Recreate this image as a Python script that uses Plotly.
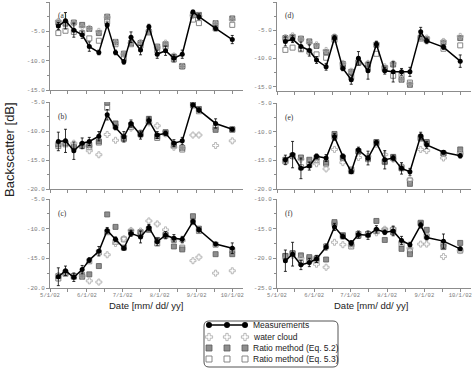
import plotly.graph_objects as go

# ---------------- data ----------------
dates = ["2002-05-08", "2002-05-14", "2002-05-21", "2002-05-28", "2002-06-03",
         "2002-06-11", "2002-06-18", "2002-06-25", "2002-07-02", "2002-07-08",
         "2002-07-16", "2002-07-23", "2002-07-30", "2002-08-06", "2002-08-13",
         "2002-08-20", "2002-08-29", "2002-09-03", "2002-09-17", "2002-10-01"]

meas_a = [-4.1, -3.2, -4.8, -5.6, -7.6, -8.6, -3.9, -8.6, -10.2, -6.0, -8.2, -4.2, -8.9, -8.3, -9.6, -8.9, -1.7, -2.5, -4.5, -6.4]
err_a = [0.6, 1.4, 1.2, 0.6, 0.8, 0.4, 0.5, 0.4, 0.4, 0.9, 0.8, 0.4, 0.7, 0.8, 0.6, 0.7, 0.3, 0.5, 0.4, 0.7]
wc_a = [-3.3, -3.4, -3.6, -4.2, -4.5, -5.0, -2.6, -6.9, -8.9, -7.0, -6.9, -5.0, -7.7, -7.0, -9.2, -11.0, -2.3, -2.4, -3.7, -3.0]
r52_a = [-3.5, -3.7, -3.5, -3.9, -4.6, -5.3, -2.5, -6.8, -8.8, -7.0, -7.0, -5.1, -7.6, -7.2, -9.3, -11.0, -2.2, -2.2, -3.6, -2.8]
r53_a = [-5.3, -4.9, -5.1, -5.3, -6.2, -6.6, -3.3, -7.2, -9.6, -7.2, -7.4, -5.2, -8.2, -7.6, -9.8, -10.9, -3.0, -3.6, -4.5, -3.9]

meas_b = [-11.8, -11.7, -13.4, -12.1, -11.8, -10.9, -7.2, -9.4, -11.0, -8.7, -10.7, -8.2, -10.7, -10.4, -12.1, -11.7, -5.5, -6.4, -8.7, -9.7]
err_b = [1.6, 2.0, 1.5, 0.9, 0.7, 0.8, 0.9, 0.4, 0.9, 0.6, 0.7, 0.6, 0.6, 0.4, 0.6, 0.6, 0.3, 0.4, 0.8, 0.3]
wc_b = [-12.2, -11.9, -12.1, -12.6, -13.4, -14.1, -10.6, -11.6, -10.9, -9.5, -10.3, -8.6, -9.1, -10.5, -12.8, -12.9, -10.7, -10.7, -12.5, -11.7]
r52_b = [-12.3, -12.1, -12.7, -12.4, -12.4, -11.8, -5.1, -8.7, -11.2, -9.0, -10.4, -7.9, -10.9, -10.2, -12.3, -12.9, -5.2, -6.2, -9.8, -9.7]
r53_b = [-12.6, -12.3, -12.8, -12.6, -12.8, -12.0, -6.0, -9.2, -11.4, -9.3, -10.6, -8.3, -11.2, -10.4, -12.5, -13.2, -5.6, -6.6, -9.4, -9.8]

meas_c = [-18.1, -17.1, -18.2, -16.9, -15.3, -13.8, -10.3, -11.8, -13.3, -10.8, -11.4, -9.8, -12.2, -11.1, -11.6, -11.8, -8.8, -10.2, -12.6, -13.3]
err_c = [1.5, 0.8, 0.7, 0.7, 0.4, 0.8, 0.5, 0.4, 0.3, 0.5, 1.0, 0.5, 0.6, 0.6, 0.6, 0.5, 0.4, 0.4, 0.3, 0.9]
wc_c = [-17.9, -17.5, -17.9, -18.0, -18.8, -19.0, -14.4, -12.5, -11.7, -10.3, -10.4, -8.7, -9.2, -10.2, -11.8, -12.0, -15.4, -14.8, -17.5, -17.1]
r52_c = [-18.0, -17.4, -18.0, -18.1, -17.7, -16.3, -7.6, -9.7, -13.2, -10.5, -10.6, -10.1, -11.9, -11.0, -13.0, -13.5, -7.9, -10.0, -14.3, -14.3]
r53_c = [-18.4, -17.6, -18.1, -17.8, -15.5, -14.0, -10.6, -12.2, -11.8, -10.7, -11.0, -10.2, -12.5, -11.2, -11.9, -13.2, -8.9, -10.4, -12.7, -13.6]

meas_d = [-7.0, -6.6, -7.9, -8.6, -10.3, -11.5, -6.4, -11.8, -13.8, -10.0, -12.2, -7.5, -12.2, -12.4, -12.4, -12.4, -5.3, -6.9, -8.0, -10.5]
err_d = [0.8, 0.6, 0.8, 1.0, 0.6, 0.6, 0.5, 0.4, 0.8, 1.2, 1.5, 0.5, 0.6, 1.8, 0.6, 0.8, 0.8, 0.5, 0.4, 1.1]
wc_d = [-6.3, -6.0, -6.6, -7.2, -7.6, -8.6, -6.2, -10.9, -12.3, -10.6, -10.9, -7.4, -11.5, -10.9, -13.7, -14.5, -6.4, -6.4, -7.0, -6.1]
r52_d = [-6.4, -6.2, -6.5, -7.0, -7.8, -8.9, -6.3, -11.0, -12.4, -10.8, -11.1, -7.6, -11.7, -11.1, -13.8, -14.7, -6.3, -6.6, -7.2, -6.4]
r53_d = [-8.5, -8.1, -8.4, -8.8, -9.3, -9.9, -6.7, -11.5, -13.3, -10.7, -11.6, -9.2, -11.9, -13.1, -12.9, -14.3, -6.5, -6.8, -8.3, -7.7]

meas_e = [-14.9, -14.0, -16.4, -16.0, -14.3, -14.6, -10.9, -14.3, -17.0, -13.2, -14.6, -11.9, -14.9, -14.6, -16.4, -17.0, -10.7, -12.3, -13.6, -14.2]
err_e = [0.8, 2.3, 1.8, 0.7, 0.4, 0.6, 0.6, 0.4, 0.3, 0.5, 1.2, 0.4, 1.6, 0.5, 1.0, 0.6, 0.6, 0.6, 0.3, 0.4]
wc_e = [-15.3, -14.3, -14.8, -15.5, -15.6, -16.5, -13.1, -15.4, -16.8, -14.5, -14.3, -12.2, -14.0, -14.8, -16.1, -18.4, -13.1, -13.3, -14.6, -13.8]
r52_e = [-14.9, -14.2, -14.5, -14.9, -14.5, -15.4, -10.4, -14.5, -16.6, -13.4, -14.6, -11.8, -15.2, -14.4, -16.4, -19.1, -11.2, -11.8, -13.8, -13.1]
r53_e = [-15.2, -14.2, -16.2, -15.8, -15.0, -15.6, -10.9, -14.6, -16.9, -13.5, -14.8, -12.0, -15.3, -14.6, -16.2, -18.5, -11.0, -12.0, -13.8, -13.9]

meas_f = [-20.4, -19.3, -21.1, -20.7, -20.1, -18.1, -14.7, -16.3, -17.4, -16.0, -16.1, -15.1, -15.6, -15.4, -17.0, -17.7, -14.4, -16.5, -17.1, -18.4]
err_f = [1.8, 2.0, 0.8, 0.7, 0.6, 0.5, 0.6, 0.4, 0.4, 0.6, 0.7, 0.6, 0.4, 0.8, 0.7, 0.4, 0.5, 0.4, 1.2, 0.3]
wc_f = [-20.0, -19.5, -20.0, -20.6, -21.0, -21.5, -17.3, -17.7, -17.8, -16.1, -15.9, -15.7, -15.1, -15.0, -17.2, -18.3, -17.6, -17.6, -19.7, -18.7]
r52_f = [-19.6, -19.2, -19.5, -19.8, -20.0, -20.2, -13.9, -16.1, -17.6, -16.2, -15.9, -13.7, -16.9, -15.6, -18.4, -19.3, -14.0, -15.2, -18.1, -17.4]
r53_f = [-19.6, -19.1, -20.8, -20.1, -20.3, -18.0, -14.2, -16.3, -18.0, -15.9, -16.0, -15.4, -15.3, -15.2, -17.6, -18.8, -14.1, -16.3, -17.6, -18.7]

x_tick_vals = ["2002-05-01", "2002-05-16", "2002-06-01", "2002-06-16", "2002-07-01", "2002-07-16",
               "2002-08-01", "2002-08-16", "2002-09-01", "2002-09-16", "2002-10-01"]
x_tick_text = ["5/1/02", "", "6/1/02", "", "7/1/02", "", "8/1/02", "", "9/1/02", "", "10/1/02"]

panel_labels = ["(a)", "(b)", "(c)", "(d)", "(e)", "(f)"]
legend_labels = ["Measurements", "water cloud", "Ratio method (Eq. 5.2)", "Ratio method (Eq. 5.3)"]
y_title = "Backscatter [dB]"
x_title = "Date [mm/ dd/ yy]"

# ---------------- layout helpers ----------------
W, H = 474, 368
def fx(p): return p / W
def fy(p): return 1 - p / H

GRAY = "#8c8c8c"
TICKFONT = dict(family="Liberation Mono, DejaVu Sans Mono, monospace", size=6, color="#7a7a7a")
XTICKFONT = dict(family="Liberation Mono, DejaVu Sans Mono, monospace", size=5.5, color="#7a7a7a")

panels = [
    (meas_a, err_a, wc_a, r52_a, r53_a, (-15, 0), (50, 243), (2, 90), False),
    (meas_b, err_b, wc_b, r52_b, r53_b, (-20, -5), (50, 243), (102, 189), False),
    (meas_c, err_c, wc_c, r52_c, r53_c, (-20, -5), (50, 243), (199, 288), True),
    (meas_d, err_d, wc_d, r52_d, r53_d, (-15.8, 0), (277, 471), (2, 91), False),
    (meas_e, err_e, wc_e, r52_e, r53_e, (-20, -5), (277, 471), (103, 189), False),
    (meas_f, err_f, wc_f, r52_f, r53_f, (-25, -10), (277, 471), (199, 288), True),
]

fig = go.Figure()
layout = dict(width=W, height=H, margin=dict(l=0, r=0, t=0, b=0, autoexpand=False),
              paper_bgcolor="white", plot_bgcolor="white", showlegend=False,
              annotations=[], shapes=[])

sq_open = dict(symbol="square-open", size=5, color="#7a7a7a", line=dict(width=0.9, color="#7a7a7a"))
sq_fill = dict(symbol="square", size=5, color="#8e8e8e", line=dict(width=0.8, color="#5a5a5a"))
cross = dict(symbol="cross-open", size=5, color="#a8a8a8", line=dict(width=0.8, color="#a8a8a8"))
meas_marker = dict(symbol="circle", size=5, color="black")

for i, (m, e, wc, r52, r53, yr, xd, yd, bottom) in enumerate(panels):
    n = i + 1
    xa = "x" if n == 1 else f"x{n}"
    ya = "y" if n == 1 else f"y{n}"
    kw = dict(xaxis=xa, yaxis=ya, showlegend=False, hoverinfo="skip")
    fig.add_trace(go.Scatter(x=dates, y=r53, mode="markers", marker=sq_open, **kw))
    fig.add_trace(go.Scatter(x=dates, y=r52, mode="markers", marker=sq_fill, **kw))
    fig.add_trace(go.Scatter(x=dates, y=wc, mode="markers", marker=cross, **kw))
    fig.add_trace(go.Scatter(x=dates, y=m, mode="lines+markers", marker=meas_marker,
                             line=dict(color="black", width=1.5),
                             error_y=dict(type="data", array=e, color="black", thickness=0.8, width=1.5),
                             **kw))
    xkey = "xaxis" if n == 1 else f"xaxis{n}"
    ykey = "yaxis" if n == 1 else f"yaxis{n}"
    layout[xkey] = dict(domain=[fx(xd[0]), fx(xd[1])], anchor=ya, type="date",
                        range=["2002-05-01", "2002-10-10"],
                        tickmode="array", tickvals=x_tick_vals, ticktext=x_tick_text,
                        showticklabels=bottom, tickfont=XTICKFONT, ticks="outside", ticklen=2.5,
                        tickcolor=GRAY, showline=True, linecolor=GRAY, linewidth=1,
                        ticklabelstandoff=-1,
                        showgrid=False, zeroline=False, tickangle=0, automargin=False)
    yv = [v for v in range(int(yr[1]), int(yr[0]) - 1, -5) if v >= yr[0]]
    layout[ykey] = dict(domain=[fy(yd[1]), fy(yd[0])], anchor=xa, range=list(yr),
                        tickmode="array", tickvals=yv, ticktext=[f"{v:.1f}" for v in yv],
                        tickfont=TICKFONT, ticks="outside", ticklen=3, tickcolor=GRAY,
                        minor=dict(dtick=2.5, tick0=0, ticks="outside", ticklen=2, tickcolor=GRAY),
                        showline=True, linecolor=GRAY, linewidth=1,
                        showgrid=False, zeroline=False, automargin=False)
    layout["annotations"].append(dict(text=panel_labels[i], xref="paper", yref="paper",
                                      x=fx(xd[0] + 6), y=fy(yd[0] + 14), xanchor="left", yanchor="middle",
                                      showarrow=False,
                                      font=dict(family="Liberation Serif, serif", size=7.5, color="#333")))

# axis titles
layout["annotations"].append(dict(text=y_title, xref="paper", yref="paper", x=fx(10), y=fy(150),
                                  textangle=-90, showarrow=False, xanchor="center", yanchor="middle",
                                  font=dict(family="Liberation Sans, Arial, sans-serif", size=13, color="#222")))
for cx in (146, 371):
    layout["annotations"].append(dict(text=x_title, xref="paper", yref="paper", x=fx(cx), y=fy(305),
                                      showarrow=False, xanchor="center", yanchor="middle",
                                      font=dict(family="Liberation Sans, Arial, sans-serif", size=9.5, color="#222")))

# ---------------- custom legend (axis 7) ----------------
L = dict(xaxis="x7", yaxis="y7", showlegend=False, hoverinfo="skip")
sym_x = [8, 26, 44]
rows = [7, 19, 30, 41]
fig.add_trace(go.Scatter(x=sym_x, y=[rows[0]] * 3, mode="lines+markers", marker=dict(symbol="circle", size=6, color="black"),
                         line=dict(color="black", width=1.5), **L))
fig.add_trace(go.Scatter(x=sym_x, y=[rows[1]] * 3, mode="markers", marker=dict(cross, size=6), **L))
fig.add_trace(go.Scatter(x=sym_x, y=[rows[2]] * 3, mode="markers", marker=dict(sq_fill, size=6), **L))
fig.add_trace(go.Scatter(x=sym_x, y=[rows[3]] * 3, mode="markers", marker=dict(sq_open, size=6), **L))
layout["xaxis7"] = dict(domain=[fx(201), fx(341)], anchor="y7", range=[0, 140], visible=False, fixedrange=True)
layout["yaxis7"] = dict(domain=[0, fy(318)], anchor="x7", range=[50, 0], visible=False, fixedrange=True)
for lab, ry in zip(legend_labels, rows):
    layout["annotations"].append(dict(text=lab, xref="x7", yref="y7", x=50, y=ry, xanchor="left", yanchor="middle",
                                      showarrow=False,
                                      font=dict(family="Liberation Sans, Arial, sans-serif", size=8.5, color="#222")))
x0, x1, y0, y1, r = 3, 137, 3, 49, 5
path = (f"M {x0+r},{y0} L {x1-r},{y0} Q {x1},{y0} {x1},{y0+r} L {x1},{y1-r} Q {x1},{y1} {x1-r},{y1} "
        f"L {x0+r},{y1} Q {x0},{y1} {x0},{y1-r} L {x0},{y0+r} Q {x0},{y0} {x0+r},{y0} Z")
layout["shapes"].append(dict(type="path", path=path, xref="x7", yref="y7",
                             line=dict(color="#555", width=1), layer="below"))

fig.update_layout(**layout)
fig.write_html("out.html", config={"displayModeBar": False},
               post_script="document.body.style.margin='0';document.body.style.padding='0';")
